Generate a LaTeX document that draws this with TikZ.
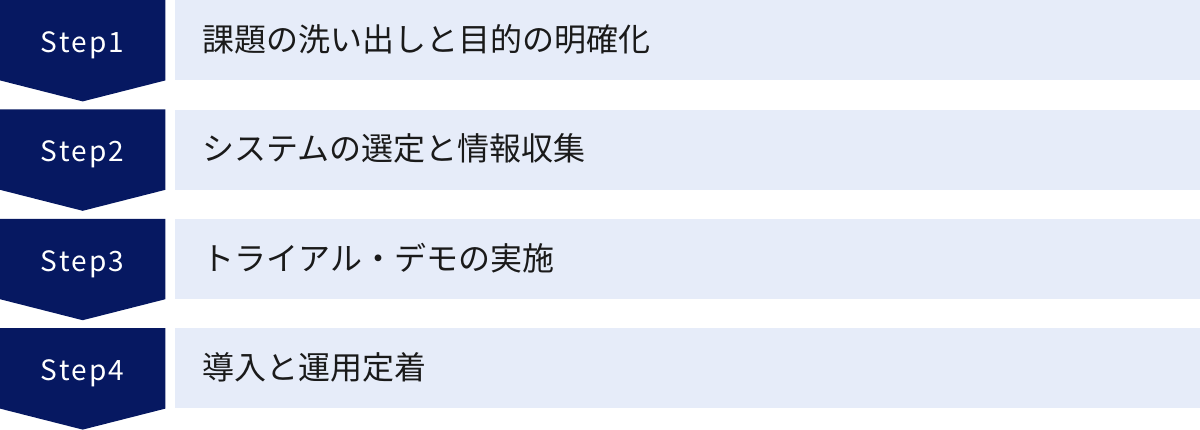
\documentclass[tikz,border=0pt]{standalone}
\usepackage{fontspec}
\setmainfont{Noto Sans CJK JP}
\newfontfamily\stepfont[LetterSpace=8]{Noto Sans CJK JP}
\usetikzlibrary{positioning,calc,backgrounds}
\definecolor{stepnavy}{HTML}{061861}
\definecolor{taskblue}{HTML}{E6ECF9}
\definecolor{tasktext}{HTML}{1A1A1A}

\begin{document}
\begin{tikzpicture}[
    stepbox/.style={rectangle, text=white, minimum width=165pt, minimum height=80pt, inner sep=0pt,
    text height=26pt, text depth=2pt, font=\stepfont\fontsize{28pt}{32pt}\selectfont},
    taskbox/.style={rectangle, fill=taskblue, text=tasktext, minimum height=80pt, inner xsep=28pt,
    inner ysep=0pt, text width=970pt, align=left, text height=25pt, text depth=3pt,
    font=\fontsize{32pt}{36pt}\selectfont},
    steparrow/.style={fill=stepnavy},]
    \useasboundingbox (0pt,0pt) rectangle (1200pt,-429pt);

    \node (step1) [stepbox, anchor=north west] at (0pt,0pt) {Step1};
    \node (task1) [taskbox, right=9pt of step1] {課題の洗い出しと目的の明確化};

    \node (step2) [stepbox, below=29pt of step1] {Step2};
    \node (task2) [taskbox, right=9pt of step2] {システムの選定と情報収集};

    \node (step3) [stepbox, below=29pt of step2] {Step3};
    \node (task3) [taskbox, right=9pt of step3] {トライアル・デモの実施};

    \node (step4) [stepbox, below=29pt of step3] {Step4};
    \node (task4) [taskbox, right=9pt of step4] {導入と運用定着};

    % navy arrow shapes behind the step labels
    \begin{scope}[on background layer]
        \fill [steparrow] (step1.north west) -- (step1.north east) -- (step1.south east)
            -- ($(step1.south)+(0pt,-21pt)$) -- (step1.south west) -- cycle;
        \fill [steparrow] (step2.north west) -- (step2.north east) -- (step2.south east)
            -- ($(step2.south)+(0pt,-21pt)$) -- (step2.south west) -- cycle;
        \fill [steparrow] (step3.north west) -- (step3.north east) -- (step3.south east)
            -- ($(step3.south)+(0pt,-21pt)$) -- (step3.south west) -- cycle;
        \fill [steparrow] (step4.north west) -- (step4.north east) -- (step4.south east)
            -- ($(step4.south)+(0pt,-21pt)$) -- (step4.south west) -- cycle;
    \end{scope}
\end{tikzpicture}
\end{document}
